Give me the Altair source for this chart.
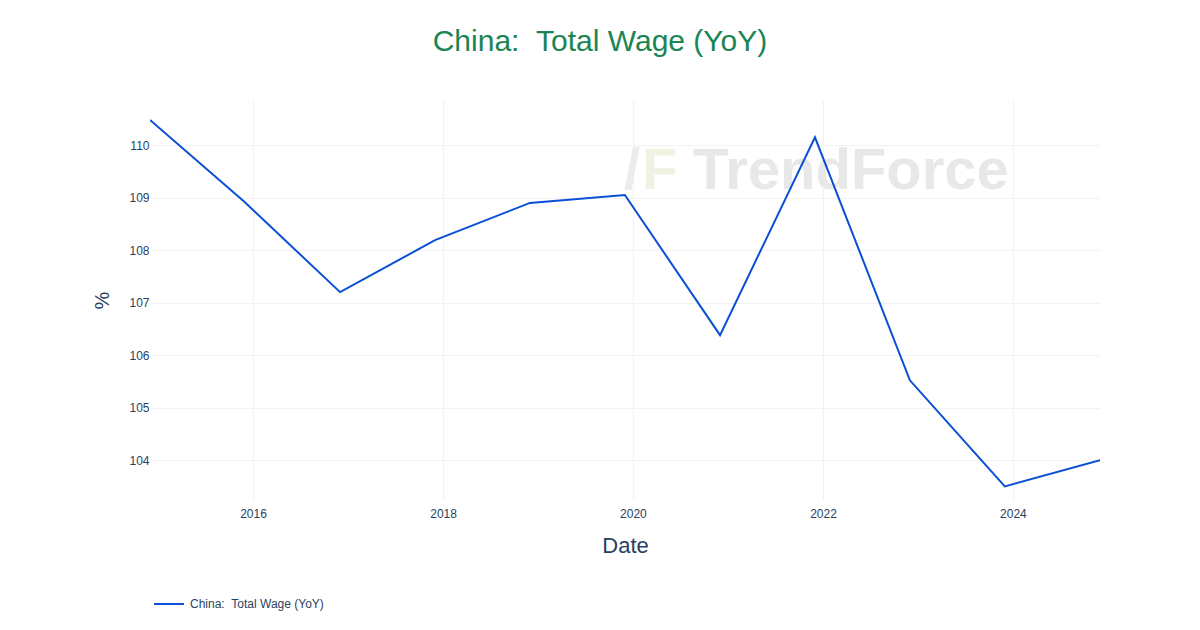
import altair as alt
import pandas as pd

dates = ["2014-12-01", "2015-12-01", "2016-12-01", "2017-12-01", "2018-12-01",
         "2019-12-01", "2020-12-01", "2021-12-01", "2022-12-01", "2023-12-01", "2024-12-01"]
values = [110.48, 108.91, 107.2, 108.19, 108.9, 109.05, 106.38, 110.15, 105.52, 103.5, 104.0]
series = "China: \u00a0Total Wage (YoY)"
title_text = "China: \u00a0Total Wage (YoY)"
x_ticks = [2016, 2018, 2020, 2022, 2024]
y_ticks = [104, 105, 106, 107, 108, 109, 110]

df = pd.DataFrame({"date": pd.to_datetime(dates), "value": values, "series": series})

font = "Liberation Sans"
txt = "#2a3f5f"

wm = alt.Chart(pd.DataFrame({"t": ["TrendForce"]})).mark_text(
    font=font, fontSize=58, fontWeight="bold", color="#e8e8e8", align="left", baseline="middle"
).encode(x=alt.value(543), y=alt.value(72), text="t:N")

wm_logo1 = alt.Chart(pd.DataFrame({"t": ["/"]})).mark_text(
    font=font, fontSize=58, fontWeight="bold", color="#ececec", align="left", baseline="middle"
).encode(x=alt.value(474), y=alt.value(72), text="t:N")

wm_logo2 = alt.Chart(pd.DataFrame({"t": ["F"]})).mark_text(
    font=font, fontSize=58, fontWeight="bold", color="#eef3e2", align="left", baseline="middle"
).encode(x=alt.value(492), y=alt.value(72), text="t:N")

line = alt.Chart(df).mark_line(strokeWidth=2, clip=True).encode(
    x=alt.X("date:T", title="Date",
            scale=alt.Scale(domain=["2014-12-01", "2024-12-01"]),
            axis=alt.Axis(values=[alt.DateTime(year=y) for y in x_ticks], format="%Y",
                          labelColor=txt, labelFont=font, labelFontSize=12, labelPadding=8,
                          titleColor=txt, titleFont=font, titleFontSize=22, titleFontWeight="normal",
                          titlePadding=16, domain=False, ticks=False,
                          grid=True, gridColor="#f2f2f2", gridWidth=1)),
    y=alt.Y("value:Q", title="%",
            scale=alt.Scale(domain=[103.24, 110.86], nice=False, zero=False),
            axis=alt.Axis(values=y_ticks, labelColor=txt, labelFont=font, labelFontSize=12,
                          labelPadding=1, titleColor=txt, titleFont=font, titleFontSize=20,
                          titleFontWeight="normal", titlePadding=16, domain=False, ticks=False,
                          grid=True, gridColor="#f2f2f2", gridWidth=1)),
    color=alt.Color("series:N", scale=alt.Scale(range=["#0a4fd6"]),
                    legend=alt.Legend(title=None, orient="none", legendX=3, legendY=488,
                                      symbolType="stroke", symbolSize=900, symbolStrokeWidth=2,
                                      labelColor=txt, labelFont=font, labelFontSize=12,
                                      labelOffset=5)),
)

chart = alt.layer(wm_logo1, wm_logo2, wm, line).properties(
    width=950, height=400,
    title=alt.Title(title_text, font=font, fontSize=30, fontWeight="normal",
                    color="#1a8553", anchor="middle", dx=-25, offset=43),
    autosize=alt.AutoSizeParams(type="none"),
    padding={"left": 150, "top": 100, "right": 100, "bottom": 130},
).configure(background="white").configure_view(strokeWidth=0, stroke="transparent")

chart.save("out.html", embed_options={"renderer": "svg", "actions": False})
